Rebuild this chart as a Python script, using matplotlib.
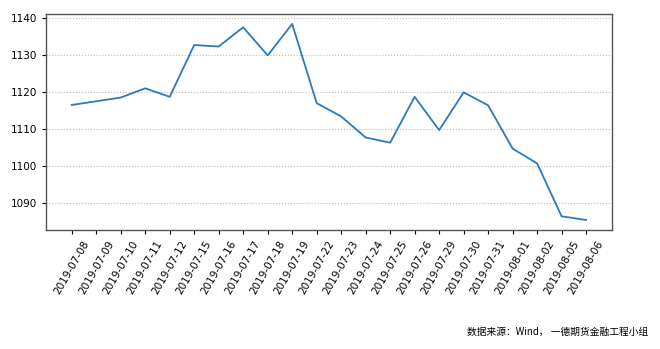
import matplotlib
matplotlib.use('Agg')
import matplotlib.pyplot as plt

# 日期与数值
dates = ['2019-07-08', '2019-07-09', '2019-07-10', '2019-07-11', '2019-07-12',
         '2019-07-15', '2019-07-16', '2019-07-17', '2019-07-18', '2019-07-19',
         '2019-07-22', '2019-07-23', '2019-07-24', '2019-07-25', '2019-07-26',
         '2019-07-29', '2019-07-30', '2019-07-31', '2019-08-01', '2019-08-02',
         '2019-08-05', '2019-08-06']
values = [1116.6, 1117.6, 1118.6, 1121.1, 1118.8,
          1132.8, 1132.4, 1137.6, 1130.0, 1138.5,
          1117.1, 1113.5, 1107.8, 1106.4, 1118.8,
          1109.8, 1120.0, 1116.5, 1104.8, 1100.8,
          1086.5, 1085.5]
source_note = '数据来源：Wind， 一德期货金融工程小组'

plt.rcParams['font.family'] = ['DejaVu Sans', 'Noto Sans CJK SC']

fig = plt.figure(figsize=(6.6, 3.49), dpi=100)
ax = fig.add_axes([0.0697, 0.341, 0.8573, 0.619])

ax.plot(dates, values, color='#2b7bba', linewidth=1.3)

ax.grid(axis='y', color='#bbbbbb', linestyle=':', linewidth=0.8)
ax.set_yticks([1090, 1100, 1110, 1120, 1130, 1140])
ax.set_ylim(1082.8, 1141.2)
ax.tick_params(axis='x', labelrotation=60, labelsize=7.5, length=3)
ax.tick_params(axis='y', labelsize=7.5, length=3)
for lab in ax.get_xticklabels():
    lab.set_ha('center')
for sp in ax.spines.values():
    sp.set_color('#555555')
    sp.set_linewidth(1.0)

fig.text(0.982, 0.049, source_note, ha='right', va='center', fontsize=7,
         family=['Noto Sans CJK SC', 'DejaVu Sans'])

fig.savefig('out.png', dpi=100)
